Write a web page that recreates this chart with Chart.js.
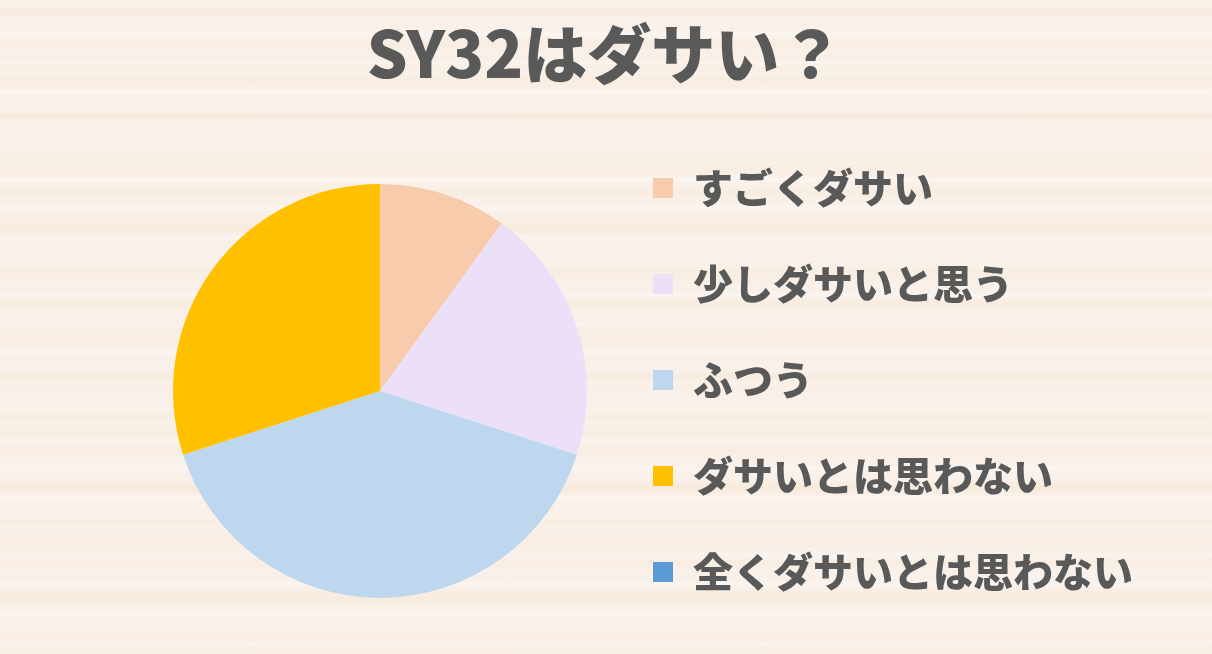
<!DOCTYPE html>
<html lang="ja">
<head>
<meta charset="utf-8">
<title>SY32はダサい？</title>
<script src="https://cdn.jsdelivr.net/npm/chart.js@4.4.1/dist/chart.umd.min.js"></script>
<style>
  html, body { margin: 0; padding: 0; }
  body {
    width: 1212px;
    height: 654px;
    overflow: hidden;
    background-color: #f9f0e9;
    /* pale wood grain, uneven horizontal streaks */
    background-image:
      repeating-linear-gradient(180deg, rgba(255,255,255,0) 0px, rgba(255,255,255,0.3) 5px, rgba(255,255,255,0) 10px, rgba(255,255,255,0) 29px),
      repeating-linear-gradient(180deg, rgba(243,228,200,0) 0px, rgba(243,228,200,0.3) 7px, rgba(243,228,200,0) 15px, rgba(243,228,200,0) 37px),
      repeating-linear-gradient(180deg, rgba(246,232,214,0) 0px, rgba(246,232,214,0.35) 11px, rgba(246,232,214,0) 21px, rgba(246,232,214,0) 53px);
  }
  #wrap { position: relative; width: 1212px; height: 654px; }
</style>
</head>
<body>
<div id="wrap"><canvas id="chart" width="1212" height="654"></canvas></div>
<script>
// answers, from the top of the pie going clockwise
const categories = ['すごくダサい', '少しダサいと思う', 'ふつう', 'ダサいとは思わない', '全くダサいとは思わない'];
const shares = [10, 20, 40, 30, 0];
const sliceColors = ['#f8cbad', '#ecdff8', '#bdd7ee', '#ffc000', '#5b9bd5'];

const TEXT = '#595959';
const FONT = "'Noto Sans CJK JP', 'Noto Sans', sans-serif";

const ctx = document.getElementById('chart');

new Chart(ctx, {
  type: 'pie',
  data: {
    labels: categories,
    datasets: [{
      data: shares,
      backgroundColor: sliceColors,
      borderWidth: 0,
      hoverBorderWidth: 0,
      hoverOffset: 0,
      offset: 0,
    }],
  },
  options: {
    responsive: false,
    animation: false,
    radius: 207,
    layout: {
      padding: { left: 67, right: 69, top: 0, bottom: 0 },
    },
    plugins: {
      title: {
        display: true,
        text: 'SY32はダサい？',
        color: TEXT,
        font: { family: FONT, size: 64, weight: '900' },
        padding: { top: 15, bottom: 36 },
      },
      // empty box on the left, only there to push the pie to the right
      subtitle: {
        display: true,
        position: 'left',
        text: '',
        font: { size: 10 },
        padding: { top: 84, bottom: 0 },
      },
      legend: {
        position: 'right',
        align: 'start',
        maxWidth: 600,
        title: {
          display: true,
          text: '',
          font: { size: 10 },
          padding: { top: 100, bottom: 0 },
        },
        labels: {
          color: TEXT,
          font: { family: FONT, size: 40, weight: '900' },
          boxWidth: 20,
          boxHeight: 20,
          padding: 56,
        },
      },
      tooltip: { enabled: false },
    },
  },
});
</script>
</body>
</html>
